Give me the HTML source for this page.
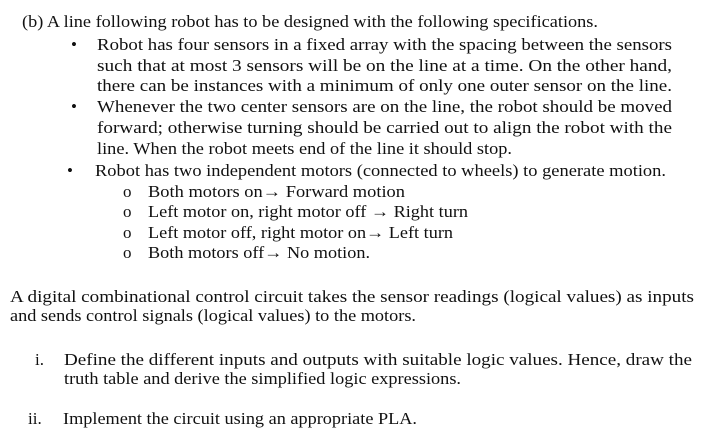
<!DOCTYPE html>
<html><head><meta charset="utf-8"><style>
html,body{margin:0;padding:0;background:#fff;width:712px;height:445px;overflow:hidden}
.l{position:absolute;white-space:nowrap;font-family:"Liberation Serif",serif;font-size:17px;line-height:20px;color:#111;transform-origin:0 50%}
</style></head><body>
<div class="l" data-x="22" data-y="22" data-r="598">(b) A line following robot has to be designed with the following specifications.</div>
<div class="l" data-x="71" data-y="45" data-r="80">•</div>
<div class="l" data-x="97" data-y="45" data-r="672">Robot has four sensors in a fixed array with the spacing between the sensors</div>
<div class="l" data-x="97" data-y="66" data-r="672">such that at most 3 sensors will be on the line at a time. On the other hand,</div>
<div class="l" data-x="97" data-y="86" data-r="672">there can be instances with a minimum of only one outer sensor on the line.</div>
<div class="l" data-x="71" data-y="107" data-r="80">•</div>
<div class="l" data-x="97" data-y="107" data-r="672">Whenever the two center sensors are on the line, the robot should be moved</div>
<div class="l" data-x="97" data-y="128" data-r="672">forward; otherwise turning should be carried out to align the robot with the</div>
<div class="l" data-x="97" data-y="149" data-r="512">line. When the robot meets end of the line it should stop.</div>
<div class="l" data-x="67" data-y="171" data-r="76">•</div>
<div class="l" data-x="95" data-y="171" data-r="666">Robot has two independent motors (connected to wheels) to generate motion.</div>
<div class="l" data-x="123" data-y="192" data-r="131">o</div>
<div class="l" data-x="148" data-y="192" data-r="405">Both motors on→ Forward motion</div>
<div class="l" data-x="123" data-y="212" data-r="131">o</div>
<div class="l" data-x="148" data-y="212" data-r="468">Left motor on, right motor off → Right turn</div>
<div class="l" data-x="123" data-y="233" data-r="131">o</div>
<div class="l" data-x="148" data-y="233" data-r="453">Left motor off, right motor on→ Left turn</div>
<div class="l" data-x="123" data-y="253" data-r="131">o</div>
<div class="l" data-x="148" data-y="253" data-r="370">Both motors off→ No motion.</div>
<div class="l" data-x="10" data-y="297" data-r="694">A digital combinational control circuit takes the sensor readings (logical values) as inputs</div>
<div class="l" data-x="10" data-y="316" data-r="416">and sends control signals (logical values) to the motors.</div>
<div class="l" data-x="35" data-y="360">i.</div>
<div class="l" data-x="64" data-y="360" data-r="692">Define the different inputs and outputs with suitable logic values. Hence, draw the</div>
<div class="l" data-x="64" data-y="379" data-r="461">truth table and derive the simplified logic expressions.</div>
<div class="l" data-x="28" data-y="419">ii.</div>
<div class="l" data-x="63" data-y="419" data-r="417">Implement the circuit using an appropriate PLA.</div>
<script>
document.querySelectorAll('.l').forEach(function(e){
 var x=+e.dataset.x,y=+e.dataset.y,r=+e.dataset.r;
 e.style.left=x+'px';e.style.top=(y-10)+'px';
 var w=e.getBoundingClientRect().width;
 if(r&&w>0&&r-x>12) e.style.transform='scaleX('+((r-x)/w)+')';
});
</script>
</body></html>
